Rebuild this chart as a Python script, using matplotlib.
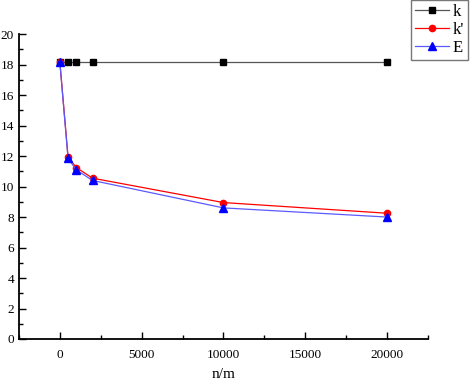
import numpy as np
import matplotlib.pyplot as plt
from matplotlib.ticker import MultipleLocator

plt.rcParams['font.family'] = ['Liberation Serif', 'DejaVu Serif']

n_m = [0, 500, 1000, 2000, 10000, 20000]
k = [18.15, 18.15, 18.15, 18.15, 18.15, 18.15]
k_prime = [18.15, 11.95, 11.25, 10.55, 8.95, 8.25]
E = [18.15, 11.85, 11.1, 10.4, 8.6, 8.0]

fig = plt.figure(figsize=(4.74, 3.82), dpi=100)
ax = fig.add_axes([0.040, 0.1126, 0.863, 0.798])

ax.plot(n_m, k, color='#555555', lw=0.9, marker='s', ms=4,
        mfc='black', mec='black', label='k')
ax.plot(n_m, k_prime, color='red', lw=0.9, marker='o', ms=4.5,
        mfc='red', mec='red', label="k'")
ax.plot(n_m, E, color='#5a5aff', lw=0.9, marker='^', ms=5.5,
        mfc='blue', mec='blue', label='E')

ax.set_xlim(-2500, 22500)
ax.set_ylim(0, 20)
ax.xaxis.set_major_locator(MultipleLocator(5000))
ax.xaxis.set_minor_locator(MultipleLocator(2500))
ax.yaxis.set_major_locator(MultipleLocator(2))
ax.yaxis.set_minor_locator(MultipleLocator(1))
ax.tick_params(which='both', direction='in', width=1, labelsize=9.5)
ax.tick_params(which='major', length=5)
ax.tick_params(which='minor', length=3)
ax.tick_params(axis='x', pad=7)
ax.spines['top'].set_visible(False)
ax.spines['right'].set_visible(False)
ax.spines['left'].set_linewidth(1.3)
ax.spines['bottom'].set_linewidth(1.3)
ax.set_xlabel('n/m', fontsize=11, labelpad=5)

leg = fig.legend(loc='upper right', bbox_to_anchor=(0.988, 1.0), fontsize=12,
                 fancybox=False, edgecolor='#777777', framealpha=1,
                 handlelength=2.0, borderpad=0.25, labelspacing=0.1,
                 handletextpad=0.25, borderaxespad=0.0)
leg.get_frame().set_linewidth(1.0)

fig.savefig('out.png', dpi=100)
